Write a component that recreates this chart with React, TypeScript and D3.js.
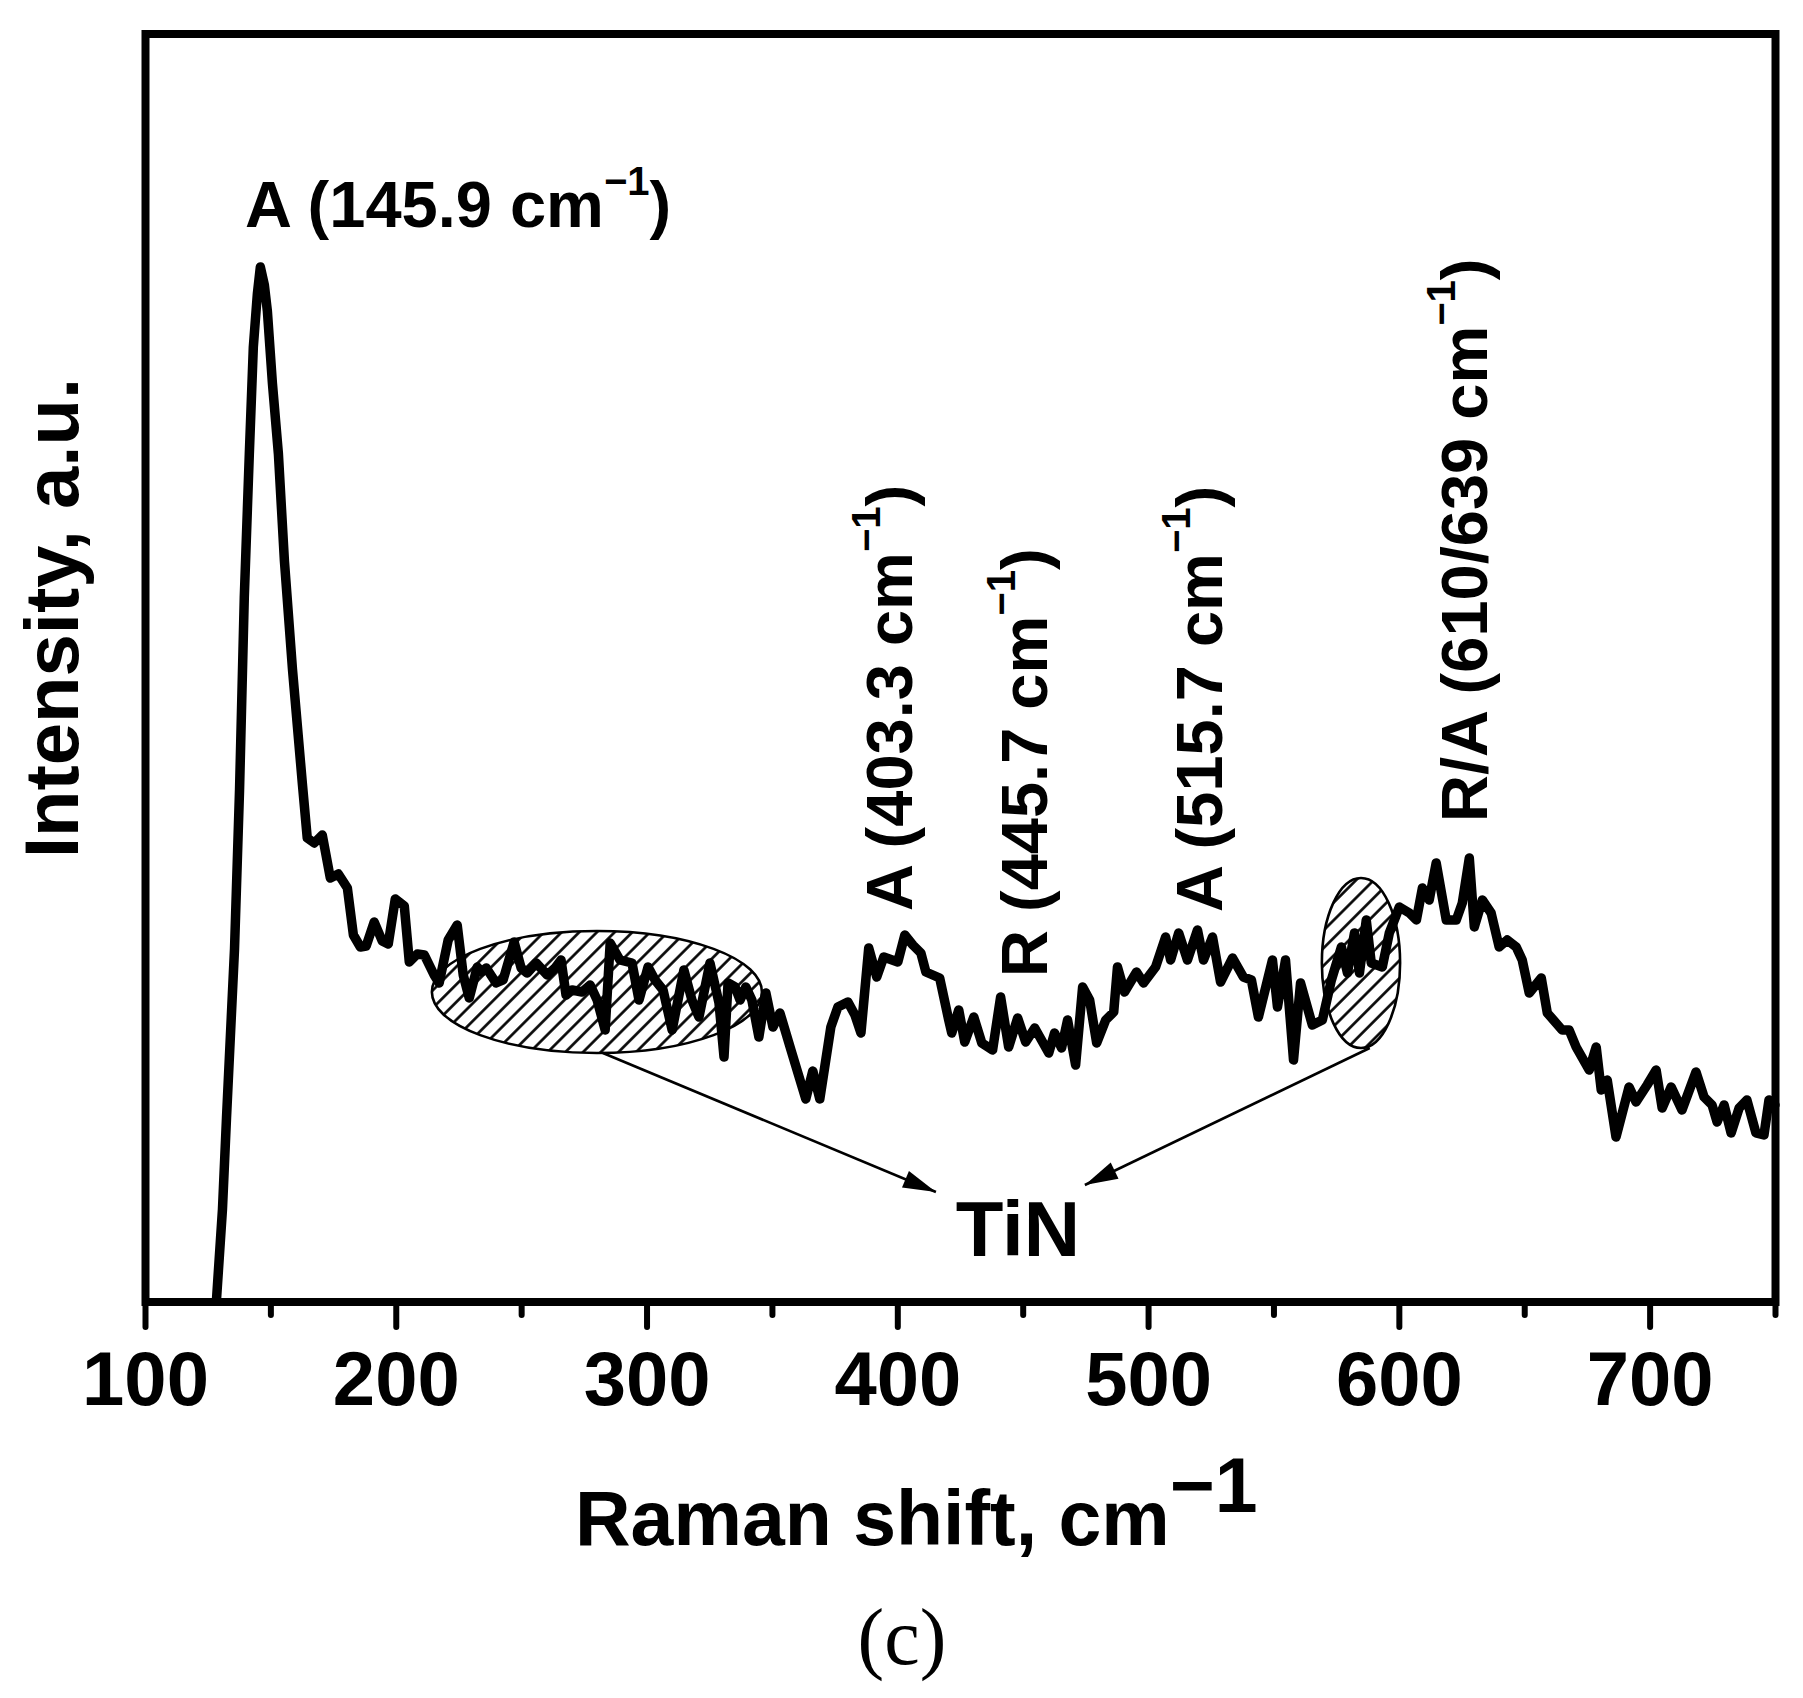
import * as d3 from 'd3';
import React from 'react';

// Raman spectrum (c)
const ramanShift = [
  128.3, 130.7, 132.3, 135.5, 137.5, 139.4, 141.4, 143.0, 144.6, 145.8, 147.4, 148.6, 150.6, 153.0, 155.4, 158.6,
  162.6, 164.5, 167.3, 170.5, 173.7, 176.9, 180.5, 182.9, 185.7, 188.0, 191.2, 194.4, 196.8, 199.6, 203.2, 205.2,
  208.4, 211.2, 215.1, 217.1, 220.7, 224.3, 226.7, 229.1, 232.3, 233.9, 235.9, 239.8, 242.6, 247.0, 249.8, 252.2,
  255.8, 260.2, 263.3, 265.7, 267.7, 270.1, 274.1, 277.3, 280.1, 283.3, 285.3, 289.2, 294.0, 296.8, 300.4, 303.2,
  306.4, 310.0, 314.7, 317.9, 320.7, 325.1, 328.7, 330.7, 332.3, 335.1, 337.1, 339.4, 341.8, 344.6, 347.4, 350.2,
  353.0, 357.4, 363.3, 366.1, 368.9, 373.3, 376.1, 380.1, 382.9, 385.3, 388.4, 391.6, 394.4, 400.0, 402.8, 406.0,
  409.2, 411.2, 416.7, 420.3, 421.5, 424.3, 426.7, 430.3, 433.5, 437.8, 441.0, 444.2, 447.8, 451.0, 454.6, 460.2,
  462.5, 465.3, 467.7, 470.9, 473.7, 476.5, 479.3, 482.9, 486.1, 487.6, 490.4, 495.2, 498.0, 502.8, 506.8, 508.8,
  512.0, 515.5, 519.5, 521.9, 525.5, 528.7, 533.5, 537.8, 541.0, 543.8, 549.4, 551.4, 554.6, 557.8, 560.6, 565.3,
  569.3, 572.9, 576.9, 579.3, 582.1, 584.1, 586.8, 588.8, 593.2, 596.0, 600.0, 604.0, 606.8, 609.2, 611.9, 614.7,
  618.7, 622.7, 625.1, 627.9, 629.9, 633.1, 636.6, 639.8, 643.0, 646.6, 649.0, 651.8, 656.6, 659.0, 664.9, 667.7,
  670.5, 675.7, 678.5, 680.5, 682.9, 686.4, 691.6, 694.4, 698.8, 702.4, 704.8, 708.4, 712.7, 718.3, 721.5, 724.7,
  726.7, 729.5, 732.3, 735.5, 738.6, 742.2, 745.4, 747.4, 749.8,
];
const intensity = [
  0.2, 9.3, 18.4, 35.3, 51.2, 70.5, 84.8, 95.5, 100.8, 103.5, 101.7, 99.1, 91.9, 84.8, 74.1, 63.3,
  51.7, 46.4, 45.9, 46.7, 42.4, 42.8, 41.4, 36.7, 35.5, 35.6, 38.0, 36.1, 35.8, 40.3, 39.6, 34.0,
  34.8, 34.7, 32.7, 31.9, 36.2, 37.7, 32.7, 30.4, 33.5, 33.0, 33.4, 31.9, 32.2, 36.0, 33.4, 32.9,
  33.9, 32.7, 33.4, 34.2, 30.7, 31.2, 31.0, 31.7, 30.2, 27.2, 35.9, 34.2, 33.9, 30.2, 33.5, 32.2,
  31.2, 27.2, 33.2, 30.2, 28.5, 33.9, 29.9, 24.5, 31.9, 31.5, 30.2, 31.5, 30.2, 26.5, 30.9, 27.5,
  28.9, 25.2, 20.3, 23.1, 20.3, 27.5, 29.5, 30.0, 28.7, 26.9, 35.4, 32.5, 34.5, 34.0, 36.7, 35.7,
  34.9, 33.0, 32.4, 28.2, 26.9, 29.2, 26.0, 28.5, 25.9, 25.2, 30.5, 25.5, 28.4, 26.0, 27.4, 24.9,
  26.9, 25.4, 28.2, 23.7, 31.5, 30.2, 25.9, 28.2, 29.0, 33.5, 31.0, 33.0, 31.9, 33.5, 36.5, 34.2,
  36.9, 34.2, 37.2, 34.2, 36.5, 32.0, 34.4, 32.5, 32.2, 28.5, 34.2, 29.5, 34.2, 24.2, 31.9, 27.7,
  28.2, 32.2, 35.5, 32.9, 36.9, 32.9, 38.2, 33.9, 33.5, 36.9, 39.5, 38.9, 38.2, 41.4, 40.2, 43.9,
  38.2, 38.2, 39.9, 44.4, 37.5, 40.2, 38.9, 35.5, 36.2, 35.5, 34.2, 30.9, 32.4, 28.9, 27.2, 27.2,
  25.5, 23.2, 25.5, 21.2, 22.2, 16.5, 21.5, 20.0, 21.7, 23.2, 19.4, 21.5, 19.2, 23.0, 20.5, 19.7,
  18.0, 19.7, 16.9, 19.4, 20.2, 16.9, 16.7, 20.2, 19.7,
];

const majorTicks = [100, 200, 300, 400, 500, 600, 700];
const minorTicks = [150, 250, 350, 450, 550, 650, 750];

// peak assignments: [shift label, position (cm-1, a.u.), rotated?]
const peakLabels = [
  { text: 'A (145.9 cm', px: 245, py: 227, rotated: false },
  { text: 'A (403.3 cm', px: 912, py: 911, rotated: true },
  { text: 'R (445.7 cm', px: 1047, py: 977, rotated: true },
  { text: 'A (515.7 cm', px: 1222, py: 912, rotated: true },
  { text: 'R/A (610/639 cm', px: 1487, py: 822, rotated: true },
];

// TiN regions (centre, radii in data units) and arrow tips
const tinRegions = [
  { cx: 280.0, cy: 31.0, rx: 65.8, ry: 6.1, fromX: 282.4, fromY: 24.9, toX: 415.2, toY: 11.0 },
  { cx: 584.7, cy: 33.9, rx: 15.6, ry: 8.5, fromX: 588.2, fromY: 25.4, toX: 474.6, toY: 11.7 },
];

const W = 1803;
const H = 1698;
const left = 145.5, right = 1775.5, top = 34, bottom = 1302;
const sans = '"Liberation Sans", Arial, Helvetica, sans-serif';

const App = () => {
  const x = d3.scaleLinear().domain([100, 750]).range([left, right]);
  const y = d3.scaleLinear().domain([0, 126.8]).range([bottom, top]);

  const points = ramanShift.map((d, i) => [d, intensity[i]] as [number, number]);
  const line = d3.line<[number, number]>()
    .x(d => x(d[0]))
    .y(d => y(d[1]));

  const arrowHead = (r) => {
    const x0 = x(r.fromX), y0 = y(r.fromY), x1 = x(r.toX), y1 = y(r.toY);
    const len = Math.hypot(x1 - x0, y1 - y0);
    const ux = (x1 - x0) / len, uy = (y1 - y0) / len;
    const bx = x1 - ux * 33, by = y1 - uy * 33;
    const nx = -uy * 9, ny = ux * 9;
    return `${x1},${y1} ${bx + nx},${by + ny} ${bx - nx},${by - ny}`;
  };

  return (
    <div style={{ position: 'absolute', left: 0, top: 0 }}>
      <svg width={W} height={H} style={{ display: 'block', background: '#fff' }}>
        <defs>
          <pattern id="hatch" width="12.5" height="12.5" patternUnits="userSpaceOnUse" patternTransform="rotate(45)">
            <rect width="12.5" height="12.5" fill="#fff" />
            <line x1="6.25" y1="0" x2="6.25" y2="12.5" stroke="#000" strokeWidth="2.6" />
          </pattern>
        </defs>

        {/* hatched TiN regions and arrows */}
        {tinRegions.map((r, i) => (
          <g key={i}>
            <ellipse cx={x(r.cx)} cy={y(r.cy)} rx={x(r.cx + r.rx) - x(r.cx)} ry={y(r.cy) - y(r.cy + r.ry)}
              fill="url(#hatch)" stroke="#000" strokeWidth={2.6} />
            <line x1={x(r.fromX)} y1={y(r.fromY)} x2={x(r.toX)} y2={y(r.toY)} stroke="#000" strokeWidth={2.6} />
            <polygon points={arrowHead(r)} fill="#000" />
          </g>
        ))}

        {/* spectrum */}
        <path d={line(points)} fill="none" stroke="#000" strokeWidth={9.5}
          strokeLinejoin="round" strokeLinecap="round" />

        {/* frame */}
        <rect x={left} y={top} width={right - left} height={bottom - top}
          fill="none" stroke="#000" strokeWidth={8} />

        {/* x ticks */}
        {majorTicks.map(t => (
          <line key={'M' + t} x1={x(t)} x2={x(t)} y1={bottom} y2={bottom + 25}
            stroke="#000" strokeWidth={6} strokeLinecap="round" />
        ))}
        {minorTicks.map(t => (
          <line key={'m' + t} x1={x(t)} x2={x(t)} y1={bottom} y2={bottom + 13}
            stroke="#000" strokeWidth={6} strokeLinecap="round" />
        ))}
        {majorTicks.map(t => (
          <text key={'l' + t} x={x(t)} y={1405} textAnchor="middle"
            fontFamily={sans} fontWeight="bold" fontSize={76}>{t}</text>
        ))}

        {/* axis titles */}
        <text x={575} y={1545} fontFamily={sans} fontWeight="bold" fontSize={77}>
          Raman shift, cm<tspan dy={-33}>{'\u22121'}</tspan>
        </text>
        <text transform="translate(78,618) rotate(-90)" textAnchor="middle"
          fontFamily={sans} fontWeight="bold" fontSize={76}>Intensity, a.u.</text>
        <text x={902} y={1664} textAnchor="middle" fontFamily='"Liberation Serif", "Times New Roman", serif'
          fontSize={80}>(c)</text>

        {/* peak assignments */}
        {peakLabels.map((p, i) => (
          <text key={i}
            transform={p.rotated ? `translate(${p.px},${p.py}) rotate(-90)` : `translate(${p.px},${p.py})`}
            fontFamily={sans} fontWeight="bold" fontSize={65}>
            {p.text}
            <tspan dy={-32} fontSize={40}>{'\u22121'}</tspan>
            <tspan dy={32}>)</tspan>
          </text>
        ))}

        <text x={x(447.9)} y={y(4.6)} textAnchor="middle" fontFamily={sans}
          fontWeight="bold" fontSize={78}>TiN</text>
      </svg>
    </div>
  );
};

export default App;
